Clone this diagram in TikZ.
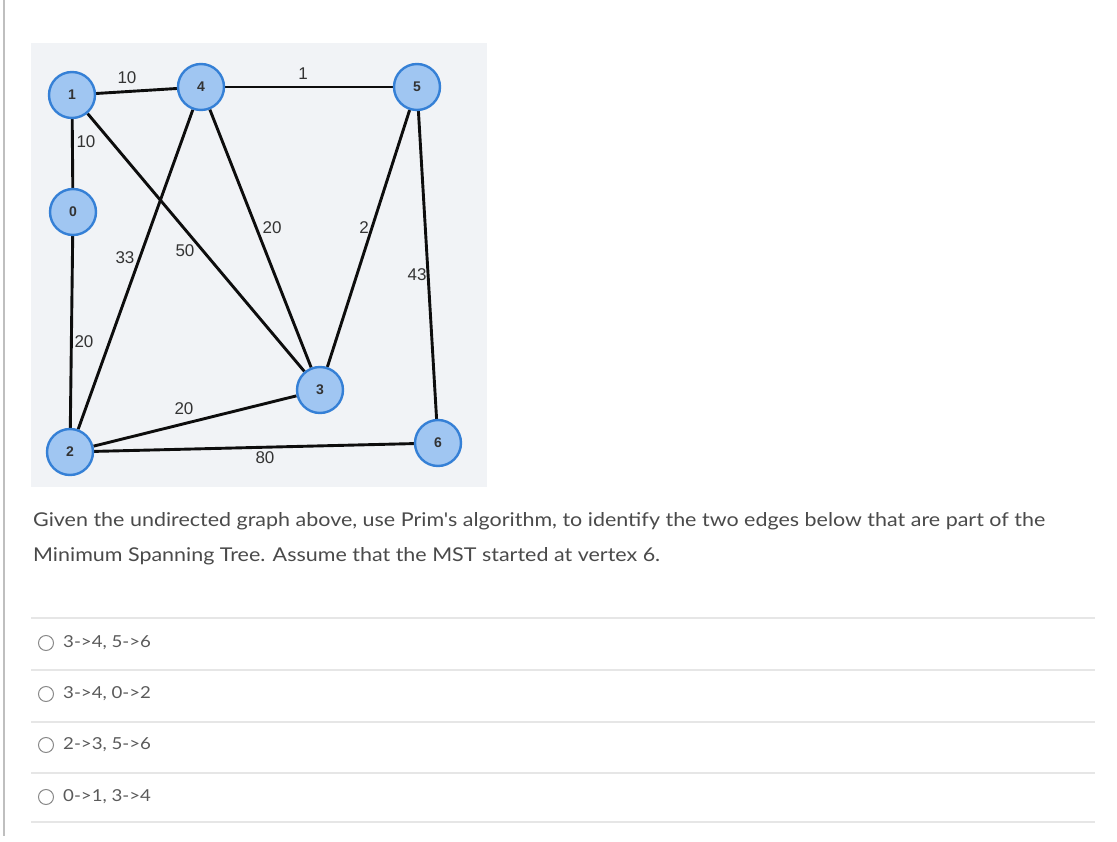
\documentclass[tikz,border=0pt]{standalone}
\usepackage{fontspec}
\setmainfont{Lato}
\newfontfamily\latowide{Lato}[FakeStretch=1.13]
\newfontfamily\graphfont{Liberation Sans}
\usetikzlibrary{backgrounds}
\definecolor{nodefill}{HTML}{A0C6F2}
\definecolor{nodedraw}{HTML}{3580D6}
\definecolor{panel}{HTML}{F1F3F6}
\definecolor{bodytext}{HTML}{4A4A4A}
\definecolor{opttext}{HTML}{5A5A5A}
\definecolor{sepline}{HTML}{E6E6E6}
\definecolor{radiogray}{HTML}{8A8A8A}
\tikzset{
  x=1pt, y=-1pt,
  vert/.style={circle, draw=nodedraw, line width=2.4pt, fill=nodefill, minimum size=46pt, inner sep=0pt, font=\graphfont\fontsize{14}{14}\selectfont\bfseries, text=black!80},
  edge/.style={line width=2.9pt, black!95},
  wlabel/.style={font=\graphfont\fontsize{17}{17}\selectfont, text=black!80, inner sep=0pt},
  radio/.style={circle, draw=radiogray, line width=1pt, minimum size=15pt, inner sep=0pt},
  opt/.style={anchor=west, font=\latowide\fontsize{16.5}{16.5}\selectfont, text=opttext, inner sep=0pt},
  question/.style={anchor=west, inner sep=0pt, font=\latowide\fontsize{19}{19}\selectfont, text=bodytext},
  sep/.style={draw=sepline, line width=1.2pt}
}
\begin{document}
\begin{tikzpicture}
\useasboundingbox (0,0) rectangle (1117,842);
% vertices
\node[vert] (v1) at (72,95) {1};
\node[vert] (v4) at (201,87) {4};
\node[vert] (v5) at (417,87) {5};
\node[vert] (v0) at (73,212) {0};
\node[vert] (v3) at (320,390) {3};
\node[vert] (v2) at (70,452) {2};
\node[vert] (v6) at (438,443) {6};
% background and edges
\begin{scope}[on background layer]
\fill[white] (0,0) rectangle (1117,842);
\draw[black!25, line width=1.5pt] (4,0) -- (4,836);
\fill[panel] (31,43) rectangle (487,487);
\draw[edge] (v1) -- (v4);
\draw[edge] (v4) -- (v5);
\draw[edge] (v1) -- (v0);
\draw[edge] (v0) -- (v2);
\draw[edge] (v1) -- (v3);
\draw[edge] (v4) -- (v2);
\draw[edge] (v4) -- (v3);
\draw[edge] (v5) -- (v3);
\draw[edge] (v5) -- (v6);
\draw[edge] (v2) -- (v3);
\draw[edge] (v2) -- (v6);
\end{scope}
% weights
\node[wlabel] (w14) at (127,78) {10};
\node[wlabel] (w45) at (303,74) {1};
\node[wlabel] (w10) at (86,142) {10};
\node[wlabel] (w02) at (84,342) {20};
\node[wlabel] (w42) at (125,258) {33};
\node[wlabel] (w13) at (185,251) {50};
\node[wlabel] (w43) at (272,228) {20};
\node[wlabel] (w53) at (364,228) {2};
\node[wlabel] (w56) at (417,275) {43};
\node[wlabel] (w23) at (184,409) {20};
\node[wlabel] (w26) at (265,458) {80};
% question
\node[question] (q1) at (33,521) {Given the undirected graph above, use Prim's algorithm, to identify the two edges below that are part of the};
\node[question] (q2) at (33,556) {Minimum Spanning Tree. Assume that the MST started at vertex 6.};
% separators
\draw[sep] (31,618) -- (1095,618);
\draw[sep] (31,670) -- (1095,670);
\draw[sep] (31,722) -- (1095,722);
\draw[sep] (31,773) -- (1095,773);
\draw[sep] (31,822) -- (1095,822);
% options
\node[radio] (r1) at (46,643) {};
\node[opt] (o1) at (63,643) {3->4, 5->6};
\node[radio] (r2) at (46,694) {};
\node[opt] (o2) at (63,694) {3->4, 0->2};
\node[radio] (r3) at (46,745) {};
\node[opt] (o3) at (63,745) {2->3, 5->6};
\node[radio] (r4) at (46,797) {};
\node[opt] (o4) at (63,797) {0->1, 3->4};
\end{tikzpicture}
\end{document}
